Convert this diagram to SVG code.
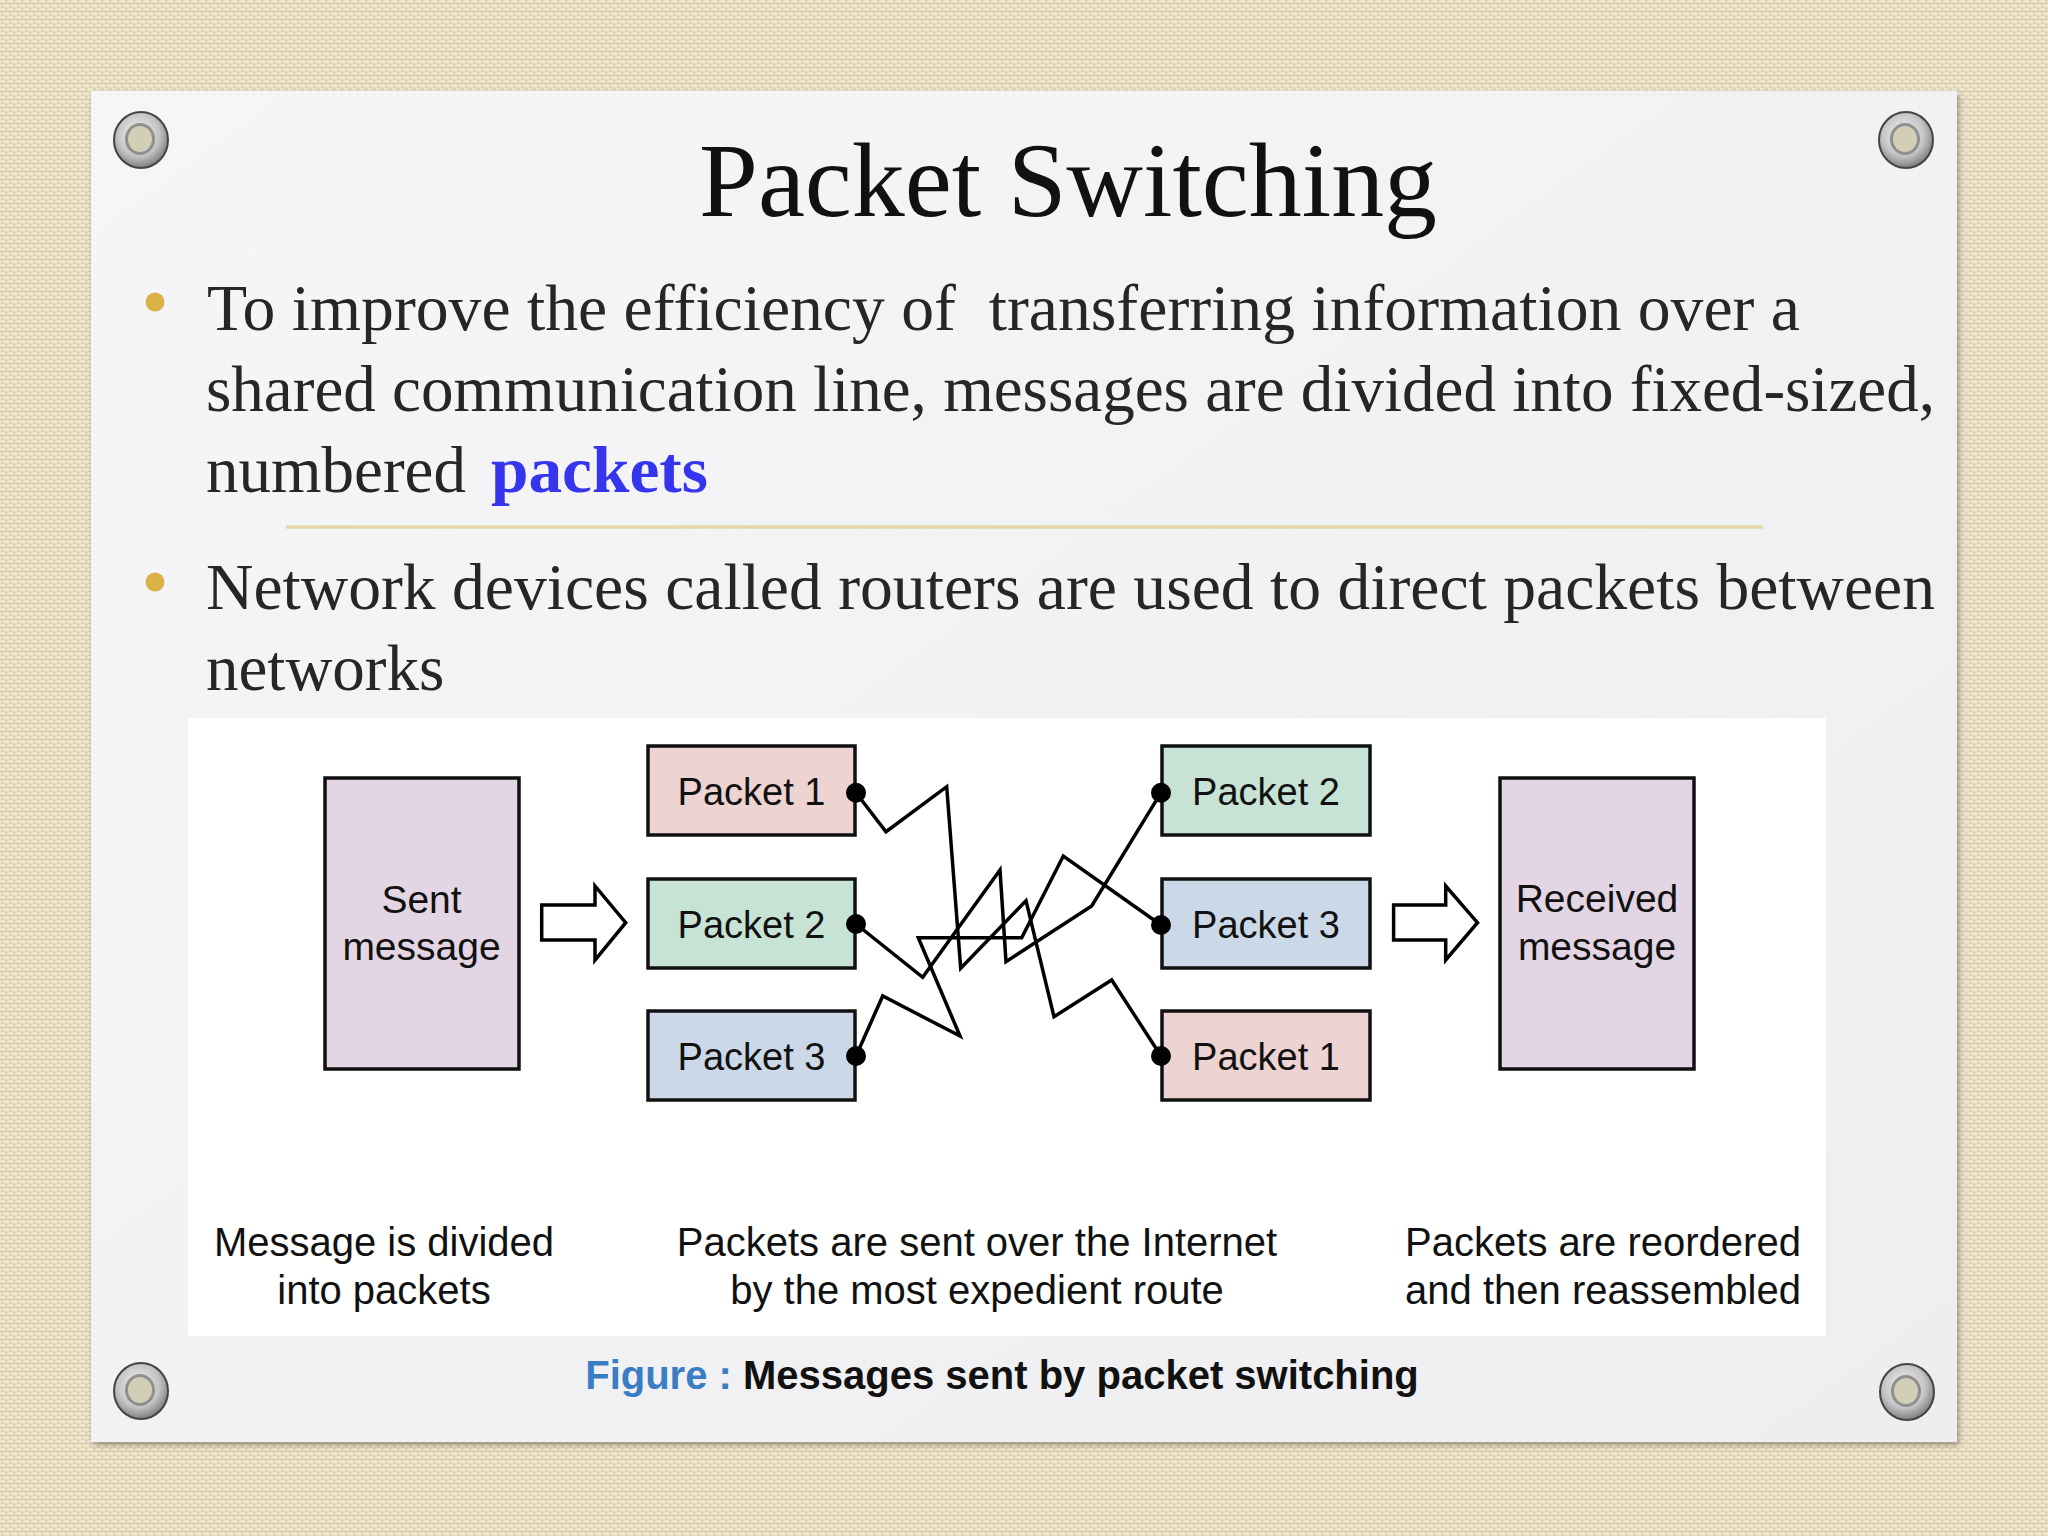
<svg xmlns="http://www.w3.org/2000/svg" width="2048" height="1536" viewBox="0 0 2048 1536">
<style>
.body{font-family:"Liberation Serif","Times New Roman",serif;font-size:65px;fill:#262626}
.lbl{font-family:"Liberation Sans",Arial,sans-serif;font-size:38px;fill:#111;text-anchor:middle}
.msg{font-family:"Liberation Sans",Arial,sans-serif;font-size:39px;fill:#111;text-anchor:middle}
.cap{font-family:"Liberation Sans",Arial,sans-serif;font-size:40px;fill:#111;text-anchor:middle}
.box{stroke:#111;stroke-width:3.5}
.zig{fill:none;stroke:#000;stroke-width:3.5;stroke-linejoin:miter;stroke-miterlimit:10}
.arrow{fill:#fff;stroke:#000;stroke-width:3.5;stroke-linejoin:miter}
.p1{fill:#edd3d1}.p2{fill:#c7e3d5}.p3{fill:#cbd8e7}.m{fill:#e3d5e3}
</style>
<defs>
<pattern id="weave" width="8" height="8" patternUnits="userSpaceOnUse">
<rect width="8" height="8" fill="#e6dabd"/>
<rect x="0" y="0" width="5" height="3" fill="#f0e7d1"/>
<rect x="4" y="4" width="4" height="3" fill="#f0e7d1"/>
<rect x="0" y="4" width="1" height="3" fill="#f0e7d1"/>
<rect x="0" y="3" width="8" height="1" fill="#d3c49e" opacity="0.7"/>
<rect x="5" y="0" width="1" height="3" fill="#d3c49e" opacity="0.6"/>
<rect x="1" y="7" width="3" height="1" fill="#d3c49e" opacity="0.5"/>
</pattern>
<linearGradient id="cardg" x1="0" y1="0" x2="1" y2="1">
<stop offset="0" stop-color="#f6f6f8"/>
<stop offset="1" stop-color="#eeeef0"/>
</linearGradient>
<filter id="shadow" x="-5%" y="-5%" width="110%" height="110%">
<feGaussianBlur in="SourceAlpha" stdDeviation="3"/>
<feOffset dx="2" dy="3" result="b"/>
<feComponentTransfer><feFuncA type="linear" slope="0.35"/></feComponentTransfer>
<feMerge><feMergeNode/><feMergeNode in="SourceGraphic"/></feMerge>
</filter>
<radialGradient id="metal" cx="0.45" cy="0.4" r="0.65">
<stop offset="0" stop-color="#f4f4f4"/>
<stop offset="0.6" stop-color="#c4c4c4"/>
<stop offset="1" stop-color="#6f6f6f"/>
</radialGradient>
<g id="screw">
<ellipse cx="0" cy="0" rx="27" ry="28" fill="url(#metal)" stroke="#444" stroke-width="2"/>
<ellipse cx="-1" cy="-1" rx="15" ry="16" fill="#8f8f8f"/>
<ellipse cx="-1" cy="-1" rx="12" ry="13" fill="#d3cfb6"/>
</g>
</defs>

<rect width="2048" height="1536" fill="url(#weave)"/>

<g id="card">
<rect x="91" y="91" width="1866" height="1351" fill="url(#cardg)" filter="url(#shadow)"/>
</g>

<g id="screws">
<use href="#screw" x="141" y="140"/>
<use href="#screw" x="1906" y="140"/>
<use href="#screw" x="141" y="1391"/>
<use href="#screw" x="1907" y="1392"/>
</g>

<g id="title">
<text x="1068" y="216" text-anchor="middle" font-family="'Liberation Serif','Times New Roman',serif" font-size="106" fill="#111" textLength="738" lengthAdjust="spacingAndGlyphs">Packet Switching</text>
</g>

<g id="bullets">
<circle cx="155" cy="302" r="9.5" fill="#dcb246"/>
<circle cx="155" cy="582" r="9.5" fill="#dcb246"/>
<text class="body" x="207" y="330" textLength="1593" lengthAdjust="spacingAndGlyphs" xml:space="preserve">To improve the efficiency of  transferring information over a</text>
<text class="body" x="206" y="411" textLength="1729" lengthAdjust="spacingAndGlyphs">shared communication line, messages are divided into fixed-sized,</text>
<text class="body" x="206" y="492">numbered <tspan x="491" font-weight="bold" fill="#3535ee" textLength="217" lengthAdjust="spacingAndGlyphs">packets</tspan></text>
<line x1="286" y1="527" x2="1763" y2="527" stroke="#e6d7a8" stroke-width="3.5"/>
<text class="body" x="206" y="609" textLength="1729" lengthAdjust="spacingAndGlyphs">Network devices called routers are used to direct packets between</text>
<text class="body" x="206" y="690">networks</text>
</g>

<g id="figure">
<rect x="188" y="718" width="1638" height="618" fill="#ffffff"/>
</g>

<g id="sent-message">
<rect class="box m" x="325" y="778" width="194" height="291"/>
<text class="msg" x="421.5" y="913">Sent</text>
<text class="msg" x="421.5" y="960">message</text>
</g>

<g id="received-message">
<rect class="box m" x="1500" y="778" width="194" height="291"/>
<text class="msg" x="1597" y="912">Received</text>
<text class="msg" x="1597" y="960">message</text>
</g>

<g id="left-packet-1">
<rect class="box p1" x="648" y="746" width="207" height="89"/>
<text class="lbl" x="751.5" y="805">Packet 1</text>
</g>
<g id="left-packet-2">
<rect class="box p2" x="648" y="879" width="207" height="89"/>
<text class="lbl" x="751.5" y="937.5">Packet 2</text>
</g>
<g id="left-packet-3">
<rect class="box p3" x="648" y="1011" width="207" height="89"/>
<text class="lbl" x="751.5" y="1069.5">Packet 3</text>
</g>

<g id="right-packet-2">
<rect class="box p2" x="1162" y="746" width="208" height="89"/>
<text class="lbl" x="1266" y="805">Packet 2</text>
</g>
<g id="right-packet-3">
<rect class="box p3" x="1162" y="879" width="208" height="89"/>
<text class="lbl" x="1266" y="937.5">Packet 3</text>
</g>
<g id="right-packet-1">
<rect class="box p1" x="1162" y="1011" width="208" height="89"/>
<text class="lbl" x="1266" y="1069.5">Packet 1</text>
</g>

<g id="connectors">
<path class="arrow" d="M541.7,905 H595 V886 L625.7,922.7 L595,960 V940 H541.7 Z"/>
<path class="arrow" d="M1393.6,905 H1445.7 V886 L1477.5,922.7 L1445.7,960 V940 H1393.6 Z"/>
<path class="zig" d="M856,792.7 L886,831.7 L946.7,786.7 L960.7,968.3 L1026,900.7 L1054,1016.7 L1111.7,980 L1161,1056"/>
<path class="zig" d="M856,924 L922.7,977.3 L1000,870 L1006,961.7 L1091.7,906 L1161,792.7"/>
<path class="zig" d="M856,1056 L882.7,996 L960,1036 L918.3,937.7 L1021.7,937.7 L1063.3,856 L1161,925"/>
<circle cx="856" cy="792.7" r="10" fill="#000"/>
<circle cx="856" cy="924" r="10" fill="#000"/>
<circle cx="856" cy="1056" r="10" fill="#000"/>
<circle cx="1161" cy="792.7" r="10" fill="#000"/>
<circle cx="1161" cy="925" r="10" fill="#000"/>
<circle cx="1161" cy="1056" r="10" fill="#000"/>
</g>

<g id="labels">
<text class="cap" x="384" y="1256">Message is divided</text>
<text class="cap" x="384" y="1304">into packets</text>
<text class="cap" x="977" y="1256">Packets are sent over the Internet</text>
<text class="cap" x="977" y="1304">by the most expedient route</text>
<text class="cap" x="1603" y="1256">Packets are reordered</text>
<text class="cap" x="1603" y="1304">and then reassembled</text>
</g>

<g id="caption">
<text class="cap" x="1002" y="1389" font-weight="bold"><tspan fill="#3a7dc4">Figure : </tspan>Messages sent by packet switching</text>
</g>
</svg>
